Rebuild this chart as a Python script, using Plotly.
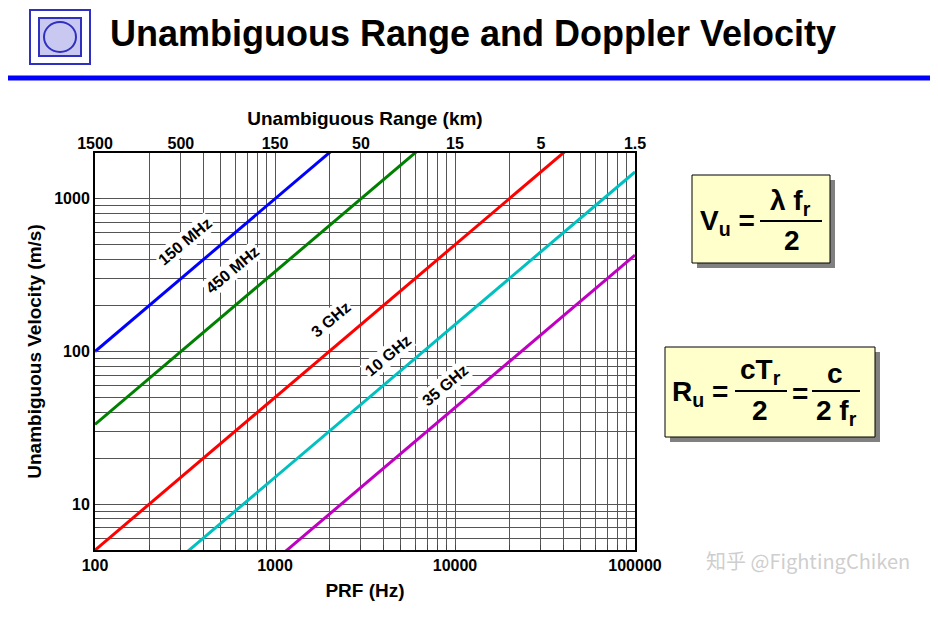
import math
import plotly.graph_objects as go

# data
prf_ends = [100, 100000]
series_names = ["150 MHz", "450 MHz", "3 GHz", "10 GHz", "35 GHz"]
series_colors = ["#0000ff", "#008000", "#ff0000", "#00c0c0", "#c000c0"]
vel_ends = [[100, 100000], [33.3, 33333], [5, 5000], [1.5, 1500], [0.43, 428]]
label_pos = [(316, 525), (580, 347), (2040, 163), (4250, 94), (8800, 60)]
range_vals = [100, 300, 1000, 3000, 10000, 30000, 100000]
range_text = ["1500", "500", "150", "50", "15", "5", "1.5"]

L, R, T, B = 95, 635, 153, 550
W, H = 938, 618
OFF = 8
def px(x): return (x - L) / (R - L)
def py(y): return (B - y) / (B - T)

fig = go.Figure()
for n, c, v in zip(series_names, series_colors, vel_ends):
    fig.add_trace(go.Scatter(x=prf_ends, y=v, mode="lines", line=dict(color=c, width=3), name=n, showlegend=False))
fig.add_trace(go.Scatter(x=range_vals, y=[None]*len(range_vals), xaxis="x2", showlegend=False))

def logvals(lo, hi):
    v, t = [], []
    d = lo
    while d < hi * 1.0001:
        for m in range(1, 10):
            val = d * m
            if lo * 0.999 <= val <= hi * 1.001:
                v.append(val); t.append(str(int(val)) if m == 1 else "")
        d *= 10
    return v, t

xv, xt = logvals(100, 100000)
yv, yt = logvals(1, 10000)
fnt = "Liberation Sans, Arial, sans-serif"
Wf, Hf = W - 2 * OFF, H - 2 * OFF
fig.update_layout(
    width=Wf, height=Hf, margin=dict(l=L - OFF, r=Wf - (R - OFF), t=T - OFF, b=Hf - (B - OFF)),
    paper_bgcolor="white", plot_bgcolor="white",
    font=dict(family=fnt, color="black"),
    xaxis=dict(type="log", range=[2, 5], tickvals=xv, ticktext=xt, showgrid=True, gridcolor="#555", gridwidth=0.6,
               showline=True, linecolor="black", linewidth=2, mirror=True, ticks="inside", ticklen=5,
               tickfont=dict(size=16, family=fnt, weight="bold"),
               title=dict(text="<b>PRF (Hz)</b>", font=dict(size=19), standoff=10)),
    xaxis2=dict(type="log", range=[2, 5], overlaying="x", side="top", tickvals=range_vals, ticktext=range_text,
                showgrid=False, tickfont=dict(size=16, family=fnt, weight="bold"),
                title=dict(text="<b>Unambiguous Range (km)</b>", font=dict(size=19), standoff=4)),
    yaxis=dict(type="log", range=[0.7, 3.3], tickvals=yv, ticktext=yt, showgrid=True, gridcolor="#555", gridwidth=0.6,
               showline=True, linecolor="black", linewidth=2, mirror=True, ticks="inside", ticklen=5,
               tickfont=dict(size=16, family=fnt, weight="bold"),
               title=dict(text="<b>Unambiguous Velocity (m/s)</b>", font=dict(size=19), standoff=8)),
)

for n, (x, y) in zip(series_names, label_pos):
    fig.add_annotation(x=math.log10(x), y=math.log10(y), text="<b>" + n + "</b>",
                       showarrow=False, textangle=-40, bgcolor="white", font=dict(size=16))

# header
fig.add_annotation(xref="paper", yref="paper", x=px(108), y=py(33), xanchor="left", yanchor="middle",
                   text="<b>Unambiguous Range and Doppler Velocity</b>", showarrow=False, font=dict(size=36))
fig.add_shape(type="line", xref="paper", yref="paper", x0=px(0), x1=px(938), y0=py(78), y1=py(78),
              line=dict(color="#0000ff", width=5))
# logo
fig.add_shape(type="rect", xref="paper", yref="paper", x0=px(30), x1=px(90), y0=py(64), y1=py(10),
              line=dict(color="#3030c0", width=2), fillcolor="white")
fig.add_shape(type="rect", xref="paper", yref="paper", x0=px(39), x1=px(81), y0=py(56), y1=py(18),
              line=dict(color="#3030c0", width=2), fillcolor="#c8c8f0")
fig.add_shape(type="circle", xref="paper", yref="paper", x0=px(44), x1=px(76), y0=py(52), y1=py(22),
              line=dict(color="#3030c0", width=2))

# formula boxes
def box(x0, y0, x1, y1):
    fig.add_shape(type="rect", xref="paper", yref="paper", x0=px(x0 + 5), x1=px(x1 + 5), y0=py(y0 + 5), y1=py(y1 + 5),
                  line=dict(width=0), fillcolor="#808080")
    fig.add_shape(type="rect", xref="paper", yref="paper", x0=px(x0), x1=px(x1), y0=py(y0), y1=py(y1),
                  line=dict(color="black", width=1), fillcolor="#ffffcc")
def txt(x, y, s, size=28, anchor="center", yanchor="middle"):
    fig.add_annotation(xref="paper", yref="paper", x=px(x), y=py(y), text="<b>" + s + "</b>", showarrow=False,
                       font=dict(size=size), xanchor=anchor, yanchor=yanchor)
def bar(x0, x1, y):
    fig.add_shape(type="line", xref="paper", yref="paper", x0=px(x0), x1=px(x1), y0=py(y), y1=py(y),
                  line=dict(color="black", width=2))

box(692, 175, 830, 263)
txt(698, 222, "V<sub>u</sub> =", anchor="left")
txt(790, 222, "λ f<sub>r</sub>", yanchor="bottom")
bar(760, 822, 221)
txt(792, 223, "2", yanchor="top")

box(665, 347, 875, 437)
txt(670, 393, "R<sub>u</sub> =", anchor="left")
txt(760, 391, "cT<sub>r</sub>", yanchor="bottom")
bar(735, 787, 391)
txt(760, 393, "2", yanchor="top")
txt(800, 393, "=")
txt(835, 391, "c", yanchor="bottom")
bar(812, 860, 391)
txt(836, 393, "2 f<sub>r</sub>", yanchor="top")

fig.add_annotation(xref="paper", yref="paper", x=px(912), y=py(577), xanchor="right", text="知乎 @FightingChiken",
                   showarrow=False, font=dict(size=20, color="rgba(200,200,200,0.9)", family="Noto Sans CJK SC"))

fig.write_html("out.html")
